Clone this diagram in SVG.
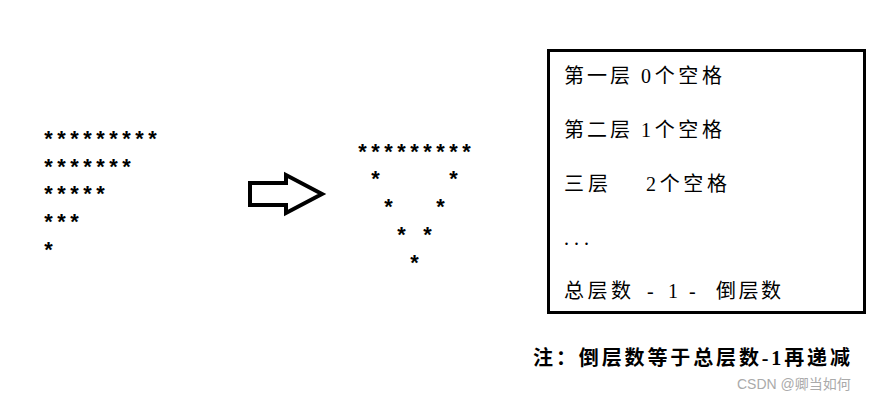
<svg xmlns="http://www.w3.org/2000/svg" width="889" height="402" viewBox="0 0 889 402">
<style>
.s{font-family:"Liberation Mono",monospace;font-size:21.7px;font-weight:bold;fill:#000;white-space:pre}
.t{font-family:"Liberation Serif","Noto Sans CJK SC",serif;font-size:20px;fill:#000;white-space:pre}
</style>
<rect width="889" height="402" fill="#fff"/>
<g id="left">
<text class="s" x="42" y="147">*********</text>
<text class="s" x="42" y="175">*******</text>
<text class="s" x="42" y="202">*****</text>
<text class="s" x="42" y="230">***</text>
<text class="s" x="42" y="258">*</text>
</g>
<g id="connectors">
<polygon points="250,183 286,183 286,175 322,194 286,213 286,205 250,205" fill="none" stroke="#000" stroke-width="4" stroke-linejoin="miter"/>
</g>
<g id="right">
<text class="s" x="356" y="160">*********</text>
<text class="s" x="356" y="187"> *     *</text>
<text class="s" x="356" y="215">  *   *</text>
<text class="s" x="356" y="243">   * *</text>
<text class="s" x="356" y="271">    *</text>
</g>
<g id="box">
<rect x="548.5" y="50.5" width="316" height="262" fill="none" stroke="#000" stroke-width="3"/>
<text class="t" x="564" y="83" textLength="66">第一层</text>
<text class="t" x="641" y="83" textLength="81">0个空格</text>
<text class="t" x="564" y="137" textLength="66">第二层</text>
<text class="t" x="641" y="137" textLength="81">1个空格</text>
<text class="t" x="564" y="191" textLength="44">三层</text>
<text class="t" x="646" y="191" textLength="81">2个空格</text>
<text class="t" x="564" y="245">. . .</text>
<text class="t" x="564" y="298" textLength="67">总层数</text>
<text class="t" x="647" y="298">-</text>
<text class="t" x="668" y="298">1</text>
<text class="t" x="689" y="298">-</text>
<text class="t" x="716" y="298" textLength="65">倒层数</text>
</g>
<g id="note">
<text class="t" x="533" y="365" font-weight="bold" font-size="19" textLength="317">注：倒层数等于总层数-1再递减</text>
<text x="737" y="389" font-family="Liberation Sans,Noto Sans CJK SC,sans-serif" font-size="14" fill="#aaa">CSDN @卿当如何</text>
</g>
</svg>
